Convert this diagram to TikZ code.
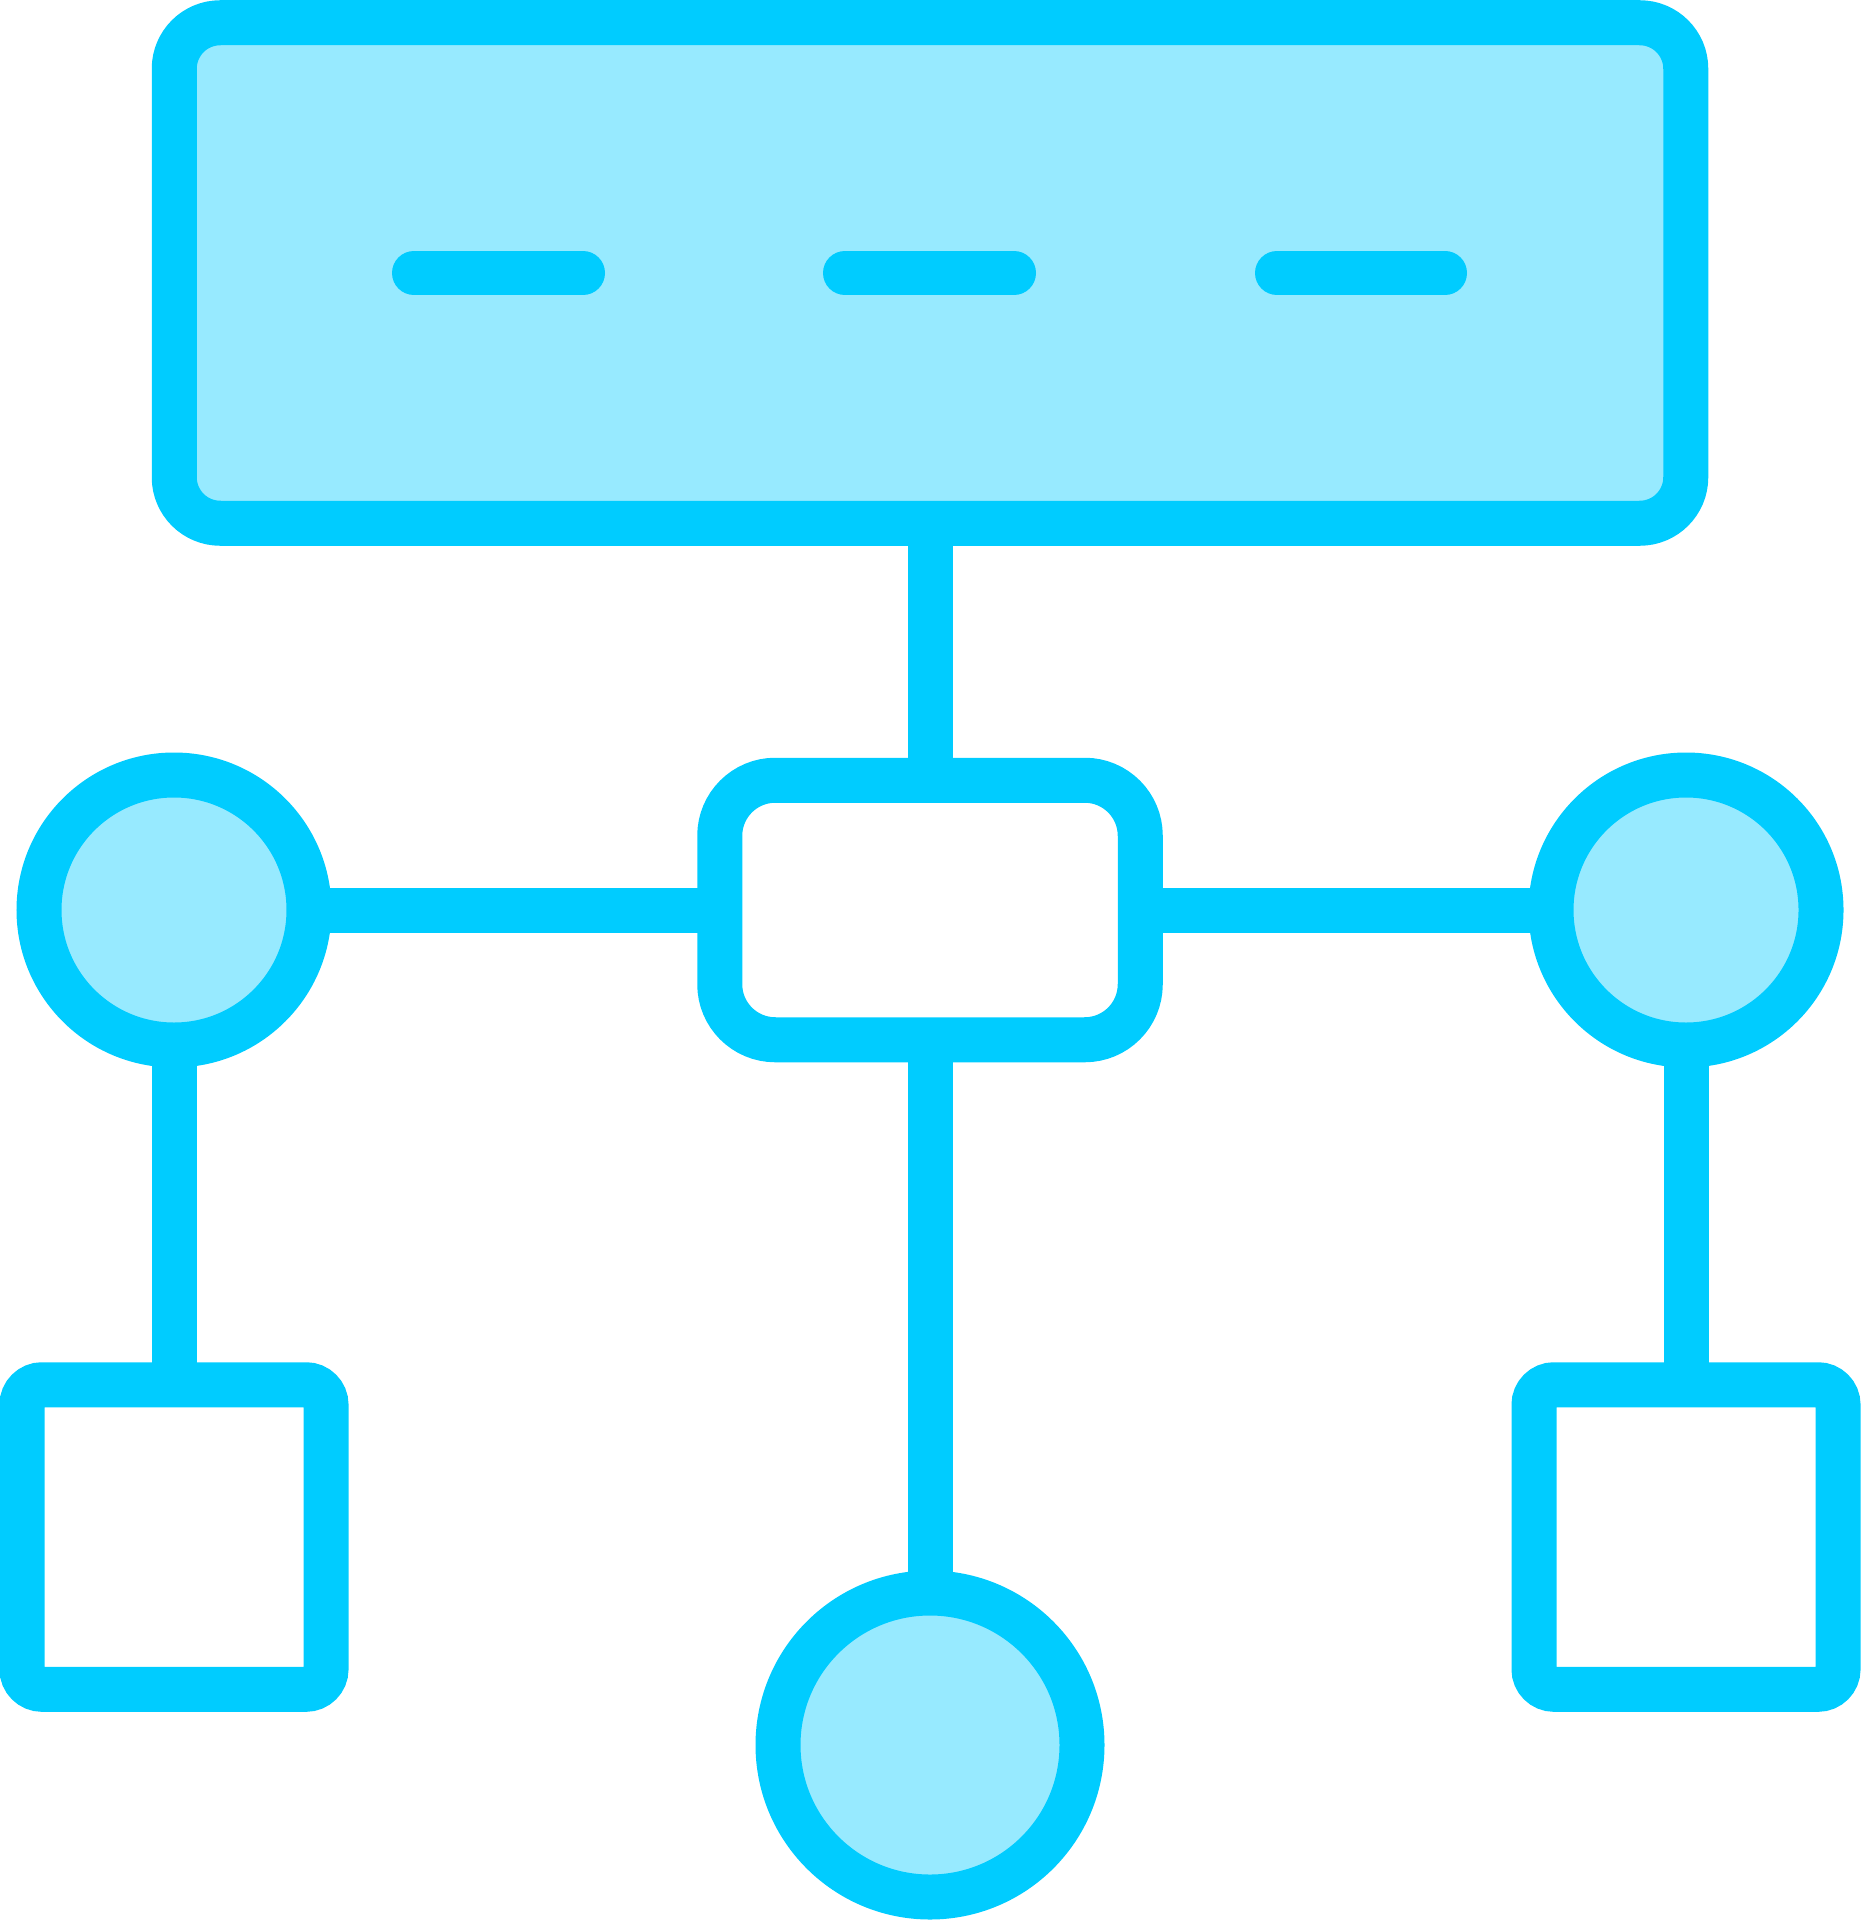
\documentclass[tikz,border=0pt]{standalone}
\definecolor{icdark}{HTML}{00CCFF}
\definecolor{iclight}{HTML}{97EAFF}
\begin{document}
\begin{tikzpicture}[x=0.5pt,y=-0.5pt,
  shp/.style={draw=icdark, line width=22.5pt, inner sep=0pt, outer sep=0pt},
  lit/.style={shp, fill=iclight},
  bar/.style={draw=icdark, line width=22.5pt},
  dashbar/.style={draw=icdark, line width=22pt, line cap=round}]
\useasboundingbox (0,0) rectangle (1860,1920);
% nodes
\node[lit, rectangle, rounded corners=23pt, minimum width=755.75pt, minimum height=250.25pt] (top) at (930,273) {};
\node[shp, rectangle, rounded corners=27.75pt, minimum width=210.25pt, minimum height=129.75pt] (mid) at (930,910) {};
\node[lit, circle, minimum size=135pt] (lc) at (174,910) {};
\node[lit, circle, minimum size=135pt] (rc) at (1686,910) {};
\node[lit, circle, minimum size=152pt] (bc) at (930,1745) {};
\node[shp, rectangle, rounded corners=10pt, minimum width=152pt, minimum height=152.25pt] (lb) at (174,1537) {};
\node[shp, rectangle, rounded corners=10pt, minimum width=152pt, minimum height=152.25pt] (rb) at (1686,1537) {};
% connectors
\draw[bar] (top.south) -- (mid.north);
\draw[bar] (lc.east) -- (mid.west);
\draw[bar] (mid.east) -- (rc.west);
\draw[bar] (mid.south) -- (bc.north);
\draw[bar] (lc.south) -- (lb.north);
\draw[bar] (rc.south) -- (rb.north);
% dashes in the top panel
\draw[dashbar] (414,273) -- (583,273);
\draw[dashbar] (845,273) -- (1014,273);
\draw[dashbar] (1277,273) -- (1445,273);
\end{tikzpicture}
\end{document}
